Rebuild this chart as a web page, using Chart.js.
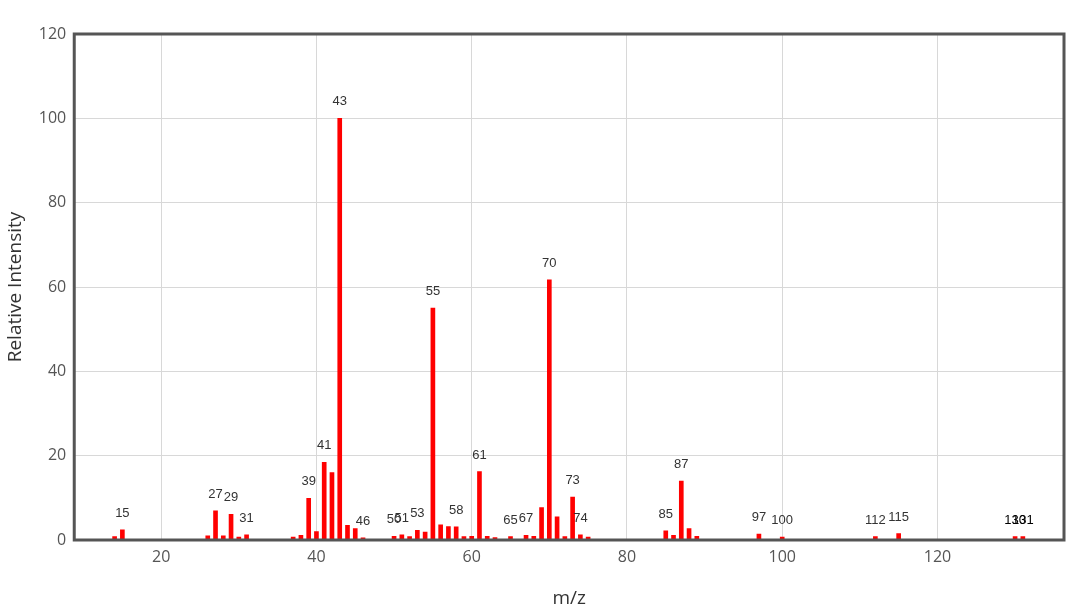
<!DOCTYPE html>
<html>
<head>
<meta charset="utf-8">
<script src="https://cdn.jsdelivr.net/npm/chart.js@4"></script>
<style>
  html, body { margin: 0; padding: 0; background: #fff; }
  #wrap { width: 1075px; height: 614px; }
</style>
</head>
<body>
<div id="wrap"><canvas id="ms"></canvas></div>
<script>
// m/z values and relative intensities
const mz = [14, 15, 26, 27, 28, 29, 30, 31, 37, 38, 39, 40, 41, 42, 43, 44, 45, 46,
  50, 51, 52, 53, 54, 55, 56, 57, 58, 59, 60, 61, 62, 63, 65, 67, 68, 69, 70, 71, 72, 73, 74, 75,
  85, 86, 87, 88, 89, 97, 100, 112, 115, 130, 131];
const intensity = [0.8, 2.4, 1, 6.9, 1, 6.1, 0.7, 1.2, 0.7, 1.1, 9.9, 2, 18.4, 16, 100, 3.5, 2.7, 0.5,
  0.9, 1.2, 0.8, 2.3, 1.9, 55, 3.6, 3.2, 3.1, 0.8, 0.9, 16.2, 0.9, 0.6, 0.8, 1.1, 0.9, 7.7, 61.7, 5.5, 0.8, 10.2, 1.2, 0.7,
  2.2, 1.1, 14, 2.7, 0.9, 1.4, 0.7, 0.8, 1.5, 0.8, 0.8];
// peaks that carry an m/z label above them
const labelled = [15, 27, 29, 31, 39, 41, 43, 46, 50, 51, 53, 55, 58, 61, 65, 67, 70, 73, 74,
  85, 87, 97, 100, 112, 115, 130, 131];
const yTicks = [0, 20, 40, 60, 80, 100, 120];
const xTicks = [20, 40, 60, 80, 100, 120];

const points = mz.map((m, i) => ({ x: m, y: intensity[i] }));

// draws the m/z text above each labelled peak
const peakLabels = {
  id: "peakLabels",
  afterDatasetsDraw(chart) {
    const ctx = chart.ctx;
    const xs = chart.scales.x, ys = chart.scales.y;
    ctx.save();
    ctx.font = "13px 'Liberation Sans', Arial, sans-serif";
    ctx.textAlign = "center";
    ctx.textBaseline = "bottom";
    labelled.forEach((m) => {
      const v = intensity[mz.indexOf(m)];
      ctx.fillStyle = m >= 130 ? "#000" : "#333";
      ctx.fillText(String(m), xs.getPixelForValue(m), ys.getPixelForValue(v) - 10);
    });
    ctx.restore();
  },
};

// thick dark frame around the plot area
const frame = {
  id: "frame",
  afterDraw(chart) {
    const a = chart.chartArea, ctx = chart.ctx;
    ctx.save();
    ctx.strokeStyle = "#555";
    ctx.lineWidth = 3;
    ctx.strokeRect(a.left, a.top, a.right - a.left, a.bottom - a.top);
    ctx.restore();
  },
};

new Chart(document.getElementById("ms"), {
  type: "bar",
  data: {
    datasets: [{
      data: points,
      backgroundColor: "#ff0000",
      barThickness: 4,
    }],
  },
  options: {
    responsive: true,
    maintainAspectRatio: false,
    animation: false,
    layout: { padding: { top: 34, right: 11, left: 0, bottom: 0 } },
    plugins: { legend: { display: false }, tooltip: { enabled: false } },
    scales: {
      x: {
        type: "linear",
        offset: false,
        min: 8.8,
        max: 136.3,
        afterBuildTicks: (s) => { s.ticks = xTicks.map((v) => ({ value: v })); },
        grid: { color: "#d8d8d8", drawTicks: false, offset: false },
        border: { display: false },
        ticks: { color: "#555", font: { size: 16, family: "'Open Sans', sans-serif" }, padding: 8 },
        title: { display: true, text: "m/z", color: "#333", font: { size: 19, family: "'Open Sans', sans-serif" }, padding: { top: 12 } },
      },
      y: {
        min: 0,
        max: 120,
        afterBuildTicks: (s) => { s.ticks = yTicks.map((v) => ({ value: v })); },
        grid: { color: "#d8d8d8", drawTicks: false },
        border: { display: false },
        ticks: { color: "#555", font: { size: 16, family: "'Open Sans', sans-serif" }, padding: 8 },
        title: { display: true, text: "Relative Intensity", color: "#333", font: { size: 19, family: "'Open Sans', sans-serif" }, padding: { bottom: 4 } },
      },
    },
  },
  plugins: [peakLabels, frame],
});
</script>
</body>
</html>
